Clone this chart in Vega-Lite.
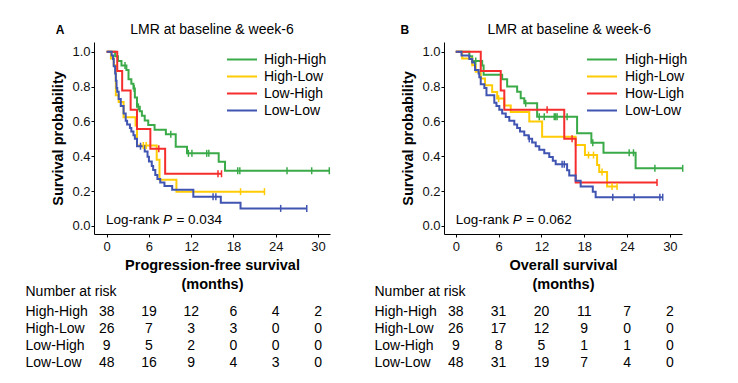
{
  "$schema": "https://vega.github.io/schema/vega-lite/v6.json",
  "background": "white",
  "padding": {"left": 25, "top": 22, "right": 5, "bottom": 5},
  "config": {
    "font": "Liberation Sans",
    "view": {"stroke": null},
    "axis": {"domainColor": "#000", "tickColor": "#000", "labelColor": "#111", "titleColor": "#000", "grid": false, "labelFont": "Liberation Sans", "titleFont": "Liberation Sans", "labelOverlap": false},
    "axisY": {"labelOverlap": false, "labelSeparation": -30},
    "text": {"font": "Liberation Sans", "color": "#000"},
    "legend": {"labelFont": "Liberation Sans"}
  },
  "datasets": {
    "curves": [
      {"p":"A","g":"High-High","t":0,"s":1},{"p":"A","g":"High-High","t":1.2,"s":0.974},{"p":"A","g":"High-High","t":1.6,"s":0.947},{"p":"A","g":"High-High","t":2.1,"s":0.921},{"p":"A","g":"High-High","t":2.8,"s":0.895},{"p":"A","g":"High-High","t":3.1,"s":0.842},{"p":"A","g":"High-High","t":3.5,"s":0.816},{"p":"A","g":"High-High","t":3.8,"s":0.789},{"p":"A","g":"High-High","t":4.0,"s":0.737},{"p":"A","g":"High-High","t":4.3,"s":0.684},{"p":"A","g":"High-High","t":4.7,"s":0.658},{"p":"A","g":"High-High","t":5.0,"s":0.632},{"p":"A","g":"High-High","t":5.4,"s":0.605},{"p":"A","g":"High-High","t":5.9,"s":0.579},{"p":"A","g":"High-High","t":6.8,"s":0.553},{"p":"A","g":"High-High","t":8.4,"s":0.526},{"p":"A","g":"High-High","t":9.8,"s":0.455},{"p":"A","g":"High-High","t":11.4,"s":0.417},{"p":"A","g":"High-High","t":15.9,"s":0.369},{"p":"A","g":"High-High","t":16.8,"s":0.317},{"p":"A","g":"High-High","t":31.6,"s":0.317},
      {"p":"A","g":"High-Low","t":0,"s":1},{"p":"A","g":"High-Low","t":0.6,"s":0.962},{"p":"A","g":"High-Low","t":1.0,"s":0.923},{"p":"A","g":"High-Low","t":1.3,"s":0.75},{"p":"A","g":"High-Low","t":1.7,"s":0.712},{"p":"A","g":"High-Low","t":2.4,"s":0.624},{"p":"A","g":"High-Low","t":4.1,"s":0.577},{"p":"A","g":"High-Low","t":4.3,"s":0.462},{"p":"A","g":"High-Low","t":7.1,"s":0.38},{"p":"A","g":"High-Low","t":7.5,"s":0.265},{"p":"A","g":"High-Low","t":9.9,"s":0.197},{"p":"A","g":"High-Low","t":22.4,"s":0.197},
      {"p":"A","g":"Low-High","t":0,"s":1},{"p":"A","g":"Low-High","t":1.5,"s":0.889},{"p":"A","g":"Low-High","t":2.2,"s":0.778},{"p":"A","g":"Low-High","t":3.4,"s":0.667},{"p":"A","g":"Low-High","t":4.3,"s":0.556},{"p":"A","g":"Low-High","t":6.2,"s":0.444},{"p":"A","g":"Low-High","t":8.3,"s":0.3},{"p":"A","g":"Low-High","t":16.3,"s":0.3},
      {"p":"A","g":"Low-Low","t":0,"s":1},{"p":"A","g":"Low-Low","t":0.7,"s":0.979},{"p":"A","g":"Low-Low","t":0.9,"s":0.958},{"p":"A","g":"Low-Low","t":1.0,"s":0.917},{"p":"A","g":"Low-Low","t":1.2,"s":0.875},{"p":"A","g":"Low-Low","t":1.3,"s":0.833},{"p":"A","g":"Low-Low","t":1.4,"s":0.792},{"p":"A","g":"Low-Low","t":1.5,"s":0.771},{"p":"A","g":"Low-Low","t":1.7,"s":0.729},{"p":"A","g":"Low-Low","t":2.0,"s":0.688},{"p":"A","g":"Low-Low","t":2.4,"s":0.646},{"p":"A","g":"Low-Low","t":2.7,"s":0.604},{"p":"A","g":"Low-Low","t":2.9,"s":0.583},{"p":"A","g":"Low-Low","t":3.3,"s":0.563},{"p":"A","g":"Low-Low","t":3.5,"s":0.542},{"p":"A","g":"Low-Low","t":3.8,"s":0.521},{"p":"A","g":"Low-Low","t":4.0,"s":0.5},{"p":"A","g":"Low-Low","t":4.3,"s":0.458},{"p":"A","g":"Low-Low","t":5.4,"s":0.427},{"p":"A","g":"Low-Low","t":5.8,"s":0.398},{"p":"A","g":"Low-Low","t":6.0,"s":0.37},{"p":"A","g":"Low-Low","t":6.4,"s":0.344},{"p":"A","g":"Low-Low","t":6.6,"s":0.321},{"p":"A","g":"Low-Low","t":6.9,"s":0.293},{"p":"A","g":"Low-Low","t":7.2,"s":0.27},{"p":"A","g":"Low-Low","t":7.6,"s":0.25},{"p":"A","g":"Low-Low","t":8.2,"s":0.229},{"p":"A","g":"Low-Low","t":9.3,"s":0.208},{"p":"A","g":"Low-Low","t":12.3,"s":0.168},{"p":"A","g":"Low-Low","t":16.2,"s":0.134},{"p":"A","g":"Low-Low","t":19.0,"s":0.101},{"p":"A","g":"Low-Low","t":28.4,"s":0.101},
      {"p":"B","g":"High-High","t":0,"s":1},{"p":"B","g":"High-High","t":1.9,"s":0.974},{"p":"B","g":"High-High","t":2.3,"s":0.947},{"p":"B","g":"High-High","t":3.7,"s":0.921},{"p":"B","g":"High-High","t":3.9,"s":0.868},{"p":"B","g":"High-High","t":6.5,"s":0.842},{"p":"B","g":"High-High","t":7.2,"s":0.8},{"p":"B","g":"High-High","t":8.6,"s":0.77},{"p":"B","g":"High-High","t":9.1,"s":0.733},{"p":"B","g":"High-High","t":9.6,"s":0.704},{"p":"B","g":"High-High","t":11.4,"s":0.627},{"p":"B","g":"High-High","t":17.0,"s":0.532},{"p":"B","g":"High-High","t":19.0,"s":0.478},{"p":"B","g":"High-High","t":20.7,"s":0.42},{"p":"B","g":"High-High","t":25.2,"s":0.331},{"p":"B","g":"High-High","t":31.8,"s":0.331},
      {"p":"B","g":"High-Low","t":0,"s":1},{"p":"B","g":"High-Low","t":0.9,"s":0.962},{"p":"B","g":"High-Low","t":2.3,"s":0.923},{"p":"B","g":"High-Low","t":2.8,"s":0.885},{"p":"B","g":"High-Low","t":3.5,"s":0.846},{"p":"B","g":"High-Low","t":4.1,"s":0.808},{"p":"B","g":"High-Low","t":5.1,"s":0.769},{"p":"B","g":"High-Low","t":5.8,"s":0.731},{"p":"B","g":"High-Low","t":6.8,"s":0.692},{"p":"B","g":"High-Low","t":7.7,"s":0.654},{"p":"B","g":"High-Low","t":10.3,"s":0.6},{"p":"B","g":"High-Low","t":12.1,"s":0.512},{"p":"B","g":"High-Low","t":16.8,"s":0.465},{"p":"B","g":"High-Low","t":18.1,"s":0.407},{"p":"B","g":"High-Low","t":19.8,"s":0.35},{"p":"B","g":"High-Low","t":20.1,"s":0.31},{"p":"B","g":"High-Low","t":21.2,"s":0.226},{"p":"B","g":"High-Low","t":22.6,"s":0.226},
      {"p":"B","g":"Low-High","t":0,"s":1},{"p":"B","g":"Low-High","t":3.5,"s":0.889},{"p":"B","g":"Low-High","t":6.3,"s":0.778},{"p":"B","g":"Low-High","t":6.8,"s":0.667},{"p":"B","g":"Low-High","t":15.2,"s":0.5},{"p":"B","g":"Low-High","t":16.8,"s":0.25},{"p":"B","g":"Low-High","t":28.2,"s":0.25},
      {"p":"B","g":"Low-Low","t":0,"s":1},{"p":"B","g":"Low-Low","t":0.8,"s":0.979},{"p":"B","g":"Low-Low","t":1.9,"s":0.958},{"p":"B","g":"Low-Low","t":2.3,"s":0.938},{"p":"B","g":"Low-Low","t":2.7,"s":0.896},{"p":"B","g":"Low-Low","t":3.2,"s":0.875},{"p":"B","g":"Low-Low","t":3.3,"s":0.854},{"p":"B","g":"Low-Low","t":3.5,"s":0.813},{"p":"B","g":"Low-Low","t":4.0,"s":0.792},{"p":"B","g":"Low-Low","t":4.3,"s":0.75},{"p":"B","g":"Low-Low","t":5.4,"s":0.708},{"p":"B","g":"Low-Low","t":5.7,"s":0.688},{"p":"B","g":"Low-Low","t":6.1,"s":0.667},{"p":"B","g":"Low-Low","t":6.5,"s":0.646},{"p":"B","g":"Low-Low","t":7.0,"s":0.625},{"p":"B","g":"Low-Low","t":7.5,"s":0.604},{"p":"B","g":"Low-Low","t":8.2,"s":0.583},{"p":"B","g":"Low-Low","t":8.6,"s":0.563},{"p":"B","g":"Low-Low","t":9.0,"s":0.542},{"p":"B","g":"Low-Low","t":9.6,"s":0.521},{"p":"B","g":"Low-Low","t":10.2,"s":0.5},{"p":"B","g":"Low-Low","t":10.7,"s":0.479},{"p":"B","g":"Low-Low","t":11.2,"s":0.458},{"p":"B","g":"Low-Low","t":11.7,"s":0.438},{"p":"B","g":"Low-Low","t":12.4,"s":0.417},{"p":"B","g":"Low-Low","t":13.1,"s":0.396},{"p":"B","g":"Low-Low","t":13.6,"s":0.375},{"p":"B","g":"Low-Low","t":14.0,"s":0.355},{"p":"B","g":"Low-Low","t":15.6,"s":0.32},{"p":"B","g":"Low-Low","t":15.9,"s":0.29},{"p":"B","g":"Low-Low","t":16.8,"s":0.26},{"p":"B","g":"Low-Low","t":17.5,"s":0.226},{"p":"B","g":"Low-Low","t":19.2,"s":0.197},{"p":"B","g":"Low-Low","t":19.6,"s":0.165},{"p":"B","g":"Low-Low","t":29.0,"s":0.165}
    ],
    "censor": [
      {"p":"A","g":"High-High","t":2.6,"s":0.921},{"p":"A","g":"High-High","t":3.9,"s":0.789},{"p":"A","g":"High-High","t":4.5,"s":0.684},{"p":"A","g":"High-High","t":9.1,"s":0.526},{"p":"A","g":"High-High","t":11.6,"s":0.417},{"p":"A","g":"High-High","t":12.1,"s":0.417},{"p":"A","g":"High-High","t":14.2,"s":0.417},{"p":"A","g":"High-High","t":14.5,"s":0.417},{"p":"A","g":"High-High","t":18.6,"s":0.317},{"p":"A","g":"High-High","t":18.9,"s":0.317},{"p":"A","g":"High-High","t":25.6,"s":0.317},{"p":"A","g":"High-High","t":29.1,"s":0.317},{"p":"A","g":"High-High","t":31.6,"s":0.317},
      {"p":"A","g":"High-Low","t":5.2,"s":0.462},{"p":"A","g":"High-Low","t":5.6,"s":0.462},{"p":"A","g":"High-Low","t":19.0,"s":0.197},{"p":"A","g":"High-Low","t":22.4,"s":0.197},
      {"p":"A","g":"Low-High","t":7.4,"s":0.444},{"p":"A","g":"Low-High","t":15.8,"s":0.3},{"p":"A","g":"Low-High","t":16.3,"s":0.3},
      {"p":"A","g":"Low-Low","t":4.8,"s":0.458},{"p":"A","g":"Low-Low","t":15.1,"s":0.168},{"p":"A","g":"Low-Low","t":15.5,"s":0.168},{"p":"A","g":"Low-Low","t":24.7,"s":0.101},{"p":"A","g":"Low-Low","t":28.4,"s":0.101},
      {"p":"B","g":"High-High","t":2.8,"s":0.947},{"p":"B","g":"High-High","t":9.8,"s":0.704},{"p":"B","g":"High-High","t":11.7,"s":0.627},{"p":"B","g":"High-High","t":12.4,"s":0.627},{"p":"B","g":"High-High","t":13.8,"s":0.627},{"p":"B","g":"High-High","t":14.0,"s":0.627},{"p":"B","g":"High-High","t":14.2,"s":0.627},{"p":"B","g":"High-High","t":15.6,"s":0.627},{"p":"B","g":"High-High","t":19.2,"s":0.478},{"p":"B","g":"High-High","t":24.3,"s":0.42},{"p":"B","g":"High-High","t":24.9,"s":0.42},{"p":"B","g":"High-High","t":27.9,"s":0.331},{"p":"B","g":"High-High","t":31.8,"s":0.331},
      {"p":"B","g":"High-Low","t":6.0,"s":0.731},{"p":"B","g":"High-Low","t":18.6,"s":0.407},{"p":"B","g":"High-Low","t":19.3,"s":0.407},{"p":"B","g":"High-Low","t":20.5,"s":0.31},{"p":"B","g":"High-Low","t":21.9,"s":0.226},{"p":"B","g":"High-Low","t":22.6,"s":0.226},
      {"p":"B","g":"Low-High","t":12.8,"s":0.667},{"p":"B","g":"Low-High","t":16.3,"s":0.5},{"p":"B","g":"Low-High","t":28.2,"s":0.25},
      {"p":"B","g":"Low-Low","t":10.3,"s":0.5},{"p":"B","g":"Low-Low","t":14.9,"s":0.355},{"p":"B","g":"Low-Low","t":15.2,"s":0.355},{"p":"B","g":"Low-Low","t":22.0,"s":0.165},{"p":"B","g":"Low-Low","t":25.0,"s":0.165},{"p":"B","g":"Low-Low","t":28.6,"s":0.165},{"p":"B","g":"Low-Low","t":29.0,"s":0.165}
    ],
    "risk": [
      {"p":"A","g":"High-High","t":0,"n":38},{"p":"A","g":"High-High","t":6,"n":19},{"p":"A","g":"High-High","t":12,"n":12},{"p":"A","g":"High-High","t":18,"n":6},{"p":"A","g":"High-High","t":24,"n":4},{"p":"A","g":"High-High","t":30,"n":2},
      {"p":"A","g":"High-Low","t":0,"n":26},{"p":"A","g":"High-Low","t":6,"n":7},{"p":"A","g":"High-Low","t":12,"n":3},{"p":"A","g":"High-Low","t":18,"n":3},{"p":"A","g":"High-Low","t":24,"n":0},{"p":"A","g":"High-Low","t":30,"n":0},
      {"p":"A","g":"Low-High","t":0,"n":9},{"p":"A","g":"Low-High","t":6,"n":5},{"p":"A","g":"Low-High","t":12,"n":2},{"p":"A","g":"Low-High","t":18,"n":0},{"p":"A","g":"Low-High","t":24,"n":0},{"p":"A","g":"Low-High","t":30,"n":0},
      {"p":"A","g":"Low-Low","t":0,"n":48},{"p":"A","g":"Low-Low","t":6,"n":16},{"p":"A","g":"Low-Low","t":12,"n":9},{"p":"A","g":"Low-Low","t":18,"n":4},{"p":"A","g":"Low-Low","t":24,"n":3},{"p":"A","g":"Low-Low","t":30,"n":0},
      {"p":"B","g":"High-High","t":0,"n":38},{"p":"B","g":"High-High","t":6,"n":31},{"p":"B","g":"High-High","t":12,"n":20},{"p":"B","g":"High-High","t":18,"n":11},{"p":"B","g":"High-High","t":24,"n":7},{"p":"B","g":"High-High","t":30,"n":2},
      {"p":"B","g":"High-Low","t":0,"n":26},{"p":"B","g":"High-Low","t":6,"n":17},{"p":"B","g":"High-Low","t":12,"n":12},{"p":"B","g":"High-Low","t":18,"n":9},{"p":"B","g":"High-Low","t":24,"n":0},{"p":"B","g":"High-Low","t":30,"n":0},
      {"p":"B","g":"Low-High","t":0,"n":9},{"p":"B","g":"Low-High","t":6,"n":8},{"p":"B","g":"Low-High","t":12,"n":5},{"p":"B","g":"Low-High","t":18,"n":1},{"p":"B","g":"Low-High","t":24,"n":1},{"p":"B","g":"Low-High","t":30,"n":0},
      {"p":"B","g":"Low-Low","t":0,"n":48},{"p":"B","g":"Low-Low","t":6,"n":31},{"p":"B","g":"Low-Low","t":12,"n":19},{"p":"B","g":"Low-Low","t":18,"n":7},{"p":"B","g":"Low-Low","t":24,"n":4},{"p":"B","g":"Low-Low","t":30,"n":0}
    ]
  },
  "hconcat": [
    {
      "spacing": -7,
      "resolve": {"scale": {"color": "independent"}, "legend": {"color": "independent"}},
      "vconcat": [
        {
          "width": 236, "height": 192,
          "encoding": {
            "x": {"field": "t", "type": "quantitative", "scale": {"domain": [-1.8, 31.7], "nice": false, "zero": false},
                  "axis": {"values": [0, 6, 12, 18, 24, 30], "title": ["Progression-free survival", "(months)"], "titleFontSize": 14.5, "titleFontWeight": "bold", "titleLineHeight": 19, "titlePadding": 5, "labelFontSize": 13, "tickSize": 3, "labelPadding": 3, "labelFlush": false, "labelOverlap": false}},
            "y": {"field": "s", "type": "quantitative", "scale": {"domain": [-0.046, 1.056], "nice": false, "zero": false},
                  "axis": {"values": [0, 0.2, 0.4, 0.6, 0.8, 1], "format": ".1f", "title": "Survival probability", "titleFontSize": 14.5, "titleFontWeight": "bold", "titlePadding": 6, "labelFontSize": 13, "tickSize": 3, "labelPadding": 1, "labelFlush": false, "labelOverlap": false, "labelSeparation": -30}}
          },
          "layer": [
            {
              "data": {"name": "curves"},
              "transform": [{"filter": "datum.p == 'A'"}],
              "mark": {"type": "line", "interpolate": "step-after", "strokeWidth": 2},
              "encoding": {
                "color": {"field": "g", "type": "nominal",
                          "scale": {"domain": ["High-High", "High-Low", "Low-High", "Low-Low"], "range": ["#3AAA48", "#FFCB05", "#F52D2D", "#4054B2"]},
                          "legend": {"title": null, "orient": "none", "legendX": 141, "legendY": 10.5, "symbolType": "M-3,0L3,0", "symbolSize": 100, "symbolStrokeWidth": 2, "labelFontSize": 14, "labelOffset": 15, "rowPadding": 3, "padding": 0, "labelColor": "#000"}}
              }
            },
            {
              "data": {"name": "censor"},
              "transform": [{"filter": "datum.p == 'A'"}],
              "mark": {"type": "point", "shape": "M0,-1L0,1", "size": 49, "strokeWidth": 1.5, "filled": false, "opacity": 1},
              "encoding": {
                "color": {"field": "g", "type": "nominal", "legend": null}
              }
            },
            {
              "data": {"values": [{"t": -0.1, "s": 0.034}]},
              "layer": [
                {"mark": {"type": "text", "align": "left", "baseline": "middle", "fontSize": 13.5}, "encoding": {"text": {"value": "Log-rank"}}},
                {"mark": {"type": "text", "align": "left", "baseline": "middle", "fontSize": 13.5, "fontStyle": "italic", "dx": 57}, "encoding": {"text": {"value": "P"}}},
                {"mark": {"type": "text", "align": "left", "baseline": "middle", "fontSize": 13.5, "dx": 70.5}, "encoding": {"text": {"value": "= 0.034"}}}
              ]
            },
            {
              "data": {"values": [{"t": 14.95, "s": 1.127}]},
              "mark": {"type": "text", "align": "center", "baseline": "middle", "fontSize": 14},
              "encoding": {"text": {"value": "LMR at baseline & week-6"}}
            },
            {
              "data": {"values": [{"t": -6.63, "s": 1.127}]},
              "mark": {"type": "text", "align": "center", "baseline": "middle", "fontSize": 12, "fontWeight": "bold"},
              "encoding": {"text": {"value": "A"}}
            }
          ]
        },
        {
          "width": 236, "height": 68,
          "data": {"name": "risk"},
          "transform": [{"filter": "datum.p == 'A'"}],
          "mark": {"type": "text", "fontSize": 14, "baseline": "middle", "align": "center", "color": "#000"},
          "encoding": {
            "x": {"field": "t", "type": "quantitative", "scale": {"domain": [-1.8, 31.7], "nice": false, "zero": false}, "axis": null},
            "y": {"field": "g", "type": "nominal", "scale": {"type": "point", "padding": 0.5, "domain": ["High-High", "High-Low", "Low-High", "Low-Low"]},
                  "axis": {"title": "Number at risk", "titleAngle": 0, "titleAlign": "left", "titleBaseline": "middle", "titleX": -69, "titleY": -11.5, "titleFontWeight": "normal", "titleFontSize": 14, "labelAlign": "left", "labelBaseline": "middle", "labelPadding": 69, "ticks": false, "tickSize": 0, "domain": false, "labelFontSize": 14, "labelColor": "#000"}},
            "text": {"field": "n", "type": "quantitative"}
          }
        }
      ]
    },
    {
      "spacing": -7,
      "resolve": {"scale": {"color": "independent"}, "legend": {"color": "independent"}},
      "vconcat": [
        {
          "width": 238, "height": 192,
          "encoding": {
            "x": {"field": "t", "type": "quantitative", "scale": {"domain": [-1.65, 31.7], "nice": false, "zero": false},
                  "axis": {"values": [0, 6, 12, 18, 24, 30], "title": ["Overall survival", "(months)"], "titleFontSize": 14.5, "titleFontWeight": "bold", "titleLineHeight": 19, "titlePadding": 5, "labelFontSize": 13, "tickSize": 3, "labelPadding": 3, "labelFlush": false, "labelOverlap": false}},
            "y": {"field": "s", "type": "quantitative", "scale": {"domain": [-0.046, 1.056], "nice": false, "zero": false},
                  "axis": {"values": [0, 0.2, 0.4, 0.6, 0.8, 1], "format": ".1f", "title": "Survival probability", "titleFontSize": 14.5, "titleFontWeight": "bold", "titlePadding": 6, "labelFontSize": 13, "tickSize": 3, "labelPadding": 1, "labelFlush": false, "labelOverlap": false, "labelSeparation": -30}}
          },
          "layer": [
            {
              "data": {"name": "curves"},
              "transform": [{"filter": "datum.p == 'B'"}],
              "mark": {"type": "line", "interpolate": "step-after", "strokeWidth": 2},
              "encoding": {
                "color": {"field": "g", "type": "nominal",
                          "scale": {"domain": ["High-High", "High-Low", "Low-High", "Low-Low"], "range": ["#3AAA48", "#FFCB05", "#F52D2D", "#4054B2"]},
                          "legend": {"title": null, "orient": "none", "legendX": 151, "legendY": 10.5, "symbolType": "M-3,0L3,0", "symbolSize": 100, "symbolStrokeWidth": 2, "labelFontSize": 14, "labelOffset": 16, "rowPadding": 3, "padding": 0, "labelColor": "#000", "labelExpr": "datum.label == 'Low-High' ? 'How-Ligh' : datum.label"}}
              }
            },
            {
              "data": {"name": "censor"},
              "transform": [{"filter": "datum.p == 'B'"}],
              "mark": {"type": "point", "shape": "M0,-1L0,1", "size": 49, "strokeWidth": 1.5, "filled": false, "opacity": 1},
              "encoding": {
                "color": {"field": "g", "type": "nominal", "legend": null}
              }
            },
            {
              "data": {"values": [{"t": 0, "s": 0.034}]},
              "layer": [
                {"mark": {"type": "text", "align": "left", "baseline": "middle", "fontSize": 13.5}, "encoding": {"text": {"value": "Log-rank"}}},
                {"mark": {"type": "text", "align": "left", "baseline": "middle", "fontSize": 13.5, "fontStyle": "italic", "dx": 57}, "encoding": {"text": {"value": "P"}}},
                {"mark": {"type": "text", "align": "left", "baseline": "middle", "fontSize": 13.5, "dx": 70.5}, "encoding": {"text": {"value": "= 0.062"}}}
              ]
            },
            {
              "data": {"values": [{"t": 15.9, "s": 1.127}]},
              "mark": {"type": "text", "align": "center", "baseline": "middle", "fontSize": 14},
              "encoding": {"text": {"value": "LMR at baseline & week-6"}}
            },
            {
              "data": {"values": [{"t": -7.15, "s": 1.127}]},
              "mark": {"type": "text", "align": "center", "baseline": "middle", "fontSize": 12, "fontWeight": "bold"},
              "encoding": {"text": {"value": "B"}}
            }
          ]
        },
        {
          "width": 238, "height": 68,
          "data": {"name": "risk"},
          "transform": [{"filter": "datum.p == 'B'"}],
          "mark": {"type": "text", "fontSize": 14, "baseline": "middle", "align": "center", "color": "#000"},
          "encoding": {
            "x": {"field": "t", "type": "quantitative", "scale": {"domain": [-1.65, 31.7], "nice": false, "zero": false}, "axis": null},
            "y": {"field": "g", "type": "nominal", "scale": {"type": "point", "padding": 0.5, "domain": ["High-High", "High-Low", "Low-High", "Low-Low"]},
                  "axis": {"title": "Number at risk", "titleAngle": 0, "titleAlign": "left", "titleBaseline": "middle", "titleX": -70, "titleY": -11.5, "titleFontWeight": "normal", "titleFontSize": 14, "labelAlign": "left", "labelBaseline": "middle", "labelPadding": 70, "ticks": false, "tickSize": 0, "domain": false, "labelFontSize": 14, "labelColor": "#000"}},
            "text": {"field": "n", "type": "quantitative"}
          }
        }
      ]
    }
  ],
  "spacing": 40,
  "resolve": {"scale": {"color": "independent"}, "legend": {"color": "independent"}}
}
